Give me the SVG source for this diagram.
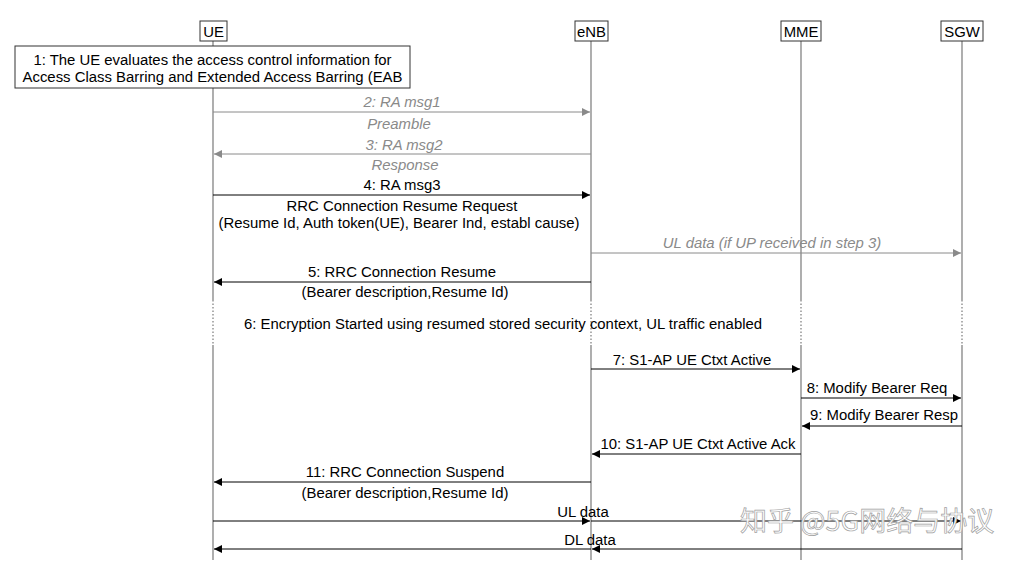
<svg xmlns="http://www.w3.org/2000/svg" width="1022" height="565" viewBox="0 0 1022 565">
<style>
text{font-family:"Liberation Sans",Arial,sans-serif;font-size:14.9px;fill:#000;text-anchor:middle}
.g{fill:#8a8a8a;font-style:italic}
.hdr{fill:#fff;stroke:#333;stroke-width:1}
.life{stroke:#7a7a7a;stroke-width:1.2;fill:none}
.dot{stroke:#7a7a7a;stroke-width:1.2;stroke-dasharray:1.5 2;fill:none}
.m{stroke:#000;stroke-width:1;fill:none}
.mg{stroke:#8a8a8a;stroke-width:1;fill:none}
.wm{font-family:"Noto Sans CJK SC","Noto Sans",sans-serif;font-size:27px;fill:#fff;stroke:#a0a0a0;stroke-width:0.7;text-anchor:start}
</style>
<defs>
<marker id="a" viewBox="0 0 10 10" refX="10" refY="5" markerWidth="9" markerHeight="8" markerUnits="userSpaceOnUse" orient="auto"><path d="M0,0L10,5L0,10z" fill="#000"/></marker>
<marker id="ag" viewBox="0 0 10 10" refX="10" refY="5" markerWidth="9" markerHeight="8" markerUnits="userSpaceOnUse" orient="auto"><path d="M0,0L10,5L0,10z" fill="#8a8a8a"/></marker>
</defs>
<rect width="1022" height="565" fill="#fff"/>
<g id="lifelines">
<path class="life" d="M213,41V300M213,345V560"/>
<path class="dot" d="M213,300V345"/>
<path class="life" d="M591,41V300M591,345V560"/>
<path class="dot" d="M591,300V345"/>
<path class="life" d="M801,41V300M801,345V560"/>
<path class="dot" d="M801,300V345"/>
<path class="life" d="M962,41V300M962,345V560"/>
<path class="dot" d="M962,300V345"/>
</g>
<g id="UE"><rect class="hdr" x="200" y="21" width="27" height="20"/><text x="213.5" y="36.5">UE</text></g>
<g id="eNB"><rect class="hdr" x="575" y="21" width="33" height="20"/><text x="591.5" y="36.5">eNB</text></g>
<g id="MME"><rect class="hdr" x="781" y="21" width="40" height="20"/><text x="801" y="36.5">MME</text></g>
<g id="SGW"><rect class="hdr" x="941" y="21" width="42" height="20"/><text x="962" y="36.5">SGW</text></g>
<g id="note1"><rect class="hdr" x="15" y="46" width="395" height="42"/>
<text x="212.5" y="64.5">1: The UE evaluates the access control information for</text>
<text x="212.5" y="81.5">Access Class Barring and Extended Access Barring (EAB</text></g>
<g id="connectors">
<path class="mg" d="M213,112H590" marker-end="url(#ag)"/>
<path class="mg" d="M591,154H214" marker-end="url(#ag)"/>
<path class="m" d="M213,195H590" marker-end="url(#a)"/>
<path class="mg" d="M591,253H961" marker-end="url(#ag)"/>
<path class="m" d="M591,282H214" marker-end="url(#a)"/>
<path class="m" d="M591,369H800" marker-end="url(#a)"/>
<path class="m" d="M801,398H961" marker-end="url(#a)"/>
<path class="m" d="M962,426H802" marker-end="url(#a)"/>
<path class="m" d="M801,454H592" marker-end="url(#a)"/>
<path class="m" d="M591,482H214" marker-end="url(#a)"/>
<path class="m" d="M213,521H590" marker-end="url(#a)"/>
<path class="m" d="M591,521H961" marker-end="url(#a)"/>
<path class="m" d="M962,549H592" marker-end="url(#a)"/>
<path class="m" d="M591,549H214" marker-end="url(#a)"/>
</g>
<g id="labels">
<text class="g" x="402" y="107">2: RA msg1</text>
<text class="g" x="399" y="128.5">Preamble</text>
<text class="g" x="404" y="149.5">3: RA msg2</text>
<text class="g" x="405" y="169.5">Response</text>
<text x="402" y="190">4: RA msg3</text>
<text x="402" y="211">RRC Connection Resume Request</text>
<text x="399" y="227.5">(Resume Id, Auth token(UE), Bearer Ind, establ cause)</text>
<text class="g" x="772" y="248">UL data (if UP received in step 3)</text>
<text x="402" y="276.5">5: RRC Connection Resume</text>
<text x="405" y="297">(Bearer description,Resume Id)</text>
<text x="503" y="329">6: Encryption Started using resumed stored security context, UL traffic enabled</text>
<text x="692" y="364.5">7: S1-AP UE Ctxt Active</text>
<text x="877" y="392.5">8: Modify Bearer Req</text>
<text x="884" y="420">9: Modify Bearer Resp</text>
<text x="698" y="448.5">10: S1-AP UE Ctxt Active Ack</text>
<text x="405" y="477">11: RRC Connection Suspend</text>
<text x="405" y="497.5">(Bearer description,Resume Id)</text>
<text x="583" y="517">UL data</text>
<text x="590" y="545">DL data</text>
</g>
<text class="wm" x="740" y="531">知乎 @5G网络与协议</text>
</svg>
